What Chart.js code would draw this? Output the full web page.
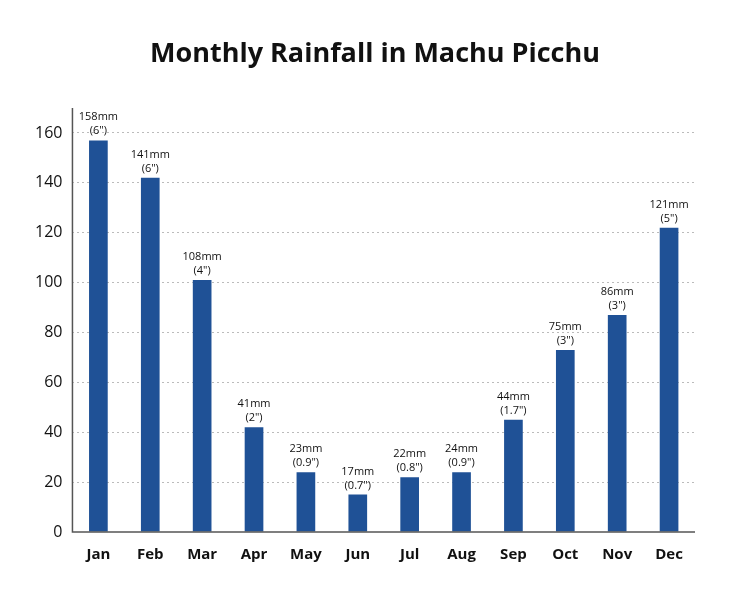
<!DOCTYPE html>
<html>
<head>
<meta charset="UTF-8">
<script src="https://cdn.jsdelivr.net/npm/chart.js"></script>
<style>
  body { margin: 0; background: #fff; }
  #wrap { width: 750px; height: 600px; }
</style>
</head>
<body>
<div id="wrap"><canvas id="myChart"></canvas></div>
<script>
const months = ['Jan','Feb','Mar','Apr','May','Jun','Jul','Aug','Sep','Oct','Nov','Dec'];
const rainfall = [157, 142, 101, 42, 24, 15, 22, 24, 45, 73, 87, 122];
const mmLabels = ['158mm','141mm','108mm','41mm','23mm','17mm','22mm','24mm','44mm','75mm','86mm','121mm'];
const inchLabels = ['(6")','(6")','(4")','(2")','(0.9")','(0.7")','(0.8")','(0.9")','(1.7")','(3")','(3")','(5")'];

// labels above bars + title + solid axis lines
const extras = {
  id: 'extras',
  afterDatasetsDraw(chart) {
    const c = chart.ctx;
    const meta = chart.getDatasetMeta(0);
    const a = chart.chartArea;
    c.save();
    c.strokeStyle = '#555';
    c.lineWidth = 1.5;
    c.setLineDash([]);
    c.beginPath();
    c.moveTo(a.left, a.top);
    c.lineTo(a.left, a.bottom);
    c.lineTo(a.right, a.bottom);
    c.stroke();

    c.fillStyle = '#111';
    c.font = '11px "Open Sans", sans-serif';
    c.textAlign = 'center';
    meta.data.forEach((bar, i) => {
      c.fillText(mmLabels[i], bar.x, bar.y - 20);
      c.fillText(inchLabels[i], bar.x, bar.y - 6);
    });

    c.font = 'bold 27px "Open Sans", sans-serif';
    c.fillText('Monthly Rainfall in Machu Picchu', 375, 62);
    c.restore();
  }
};

new Chart(document.getElementById('myChart'), {
  type: 'bar',
  data: {
    labels: months,
    datasets: [{
      data: rainfall,
      backgroundColor: '#1f5196',
      barPercentage: 0.36,
      categoryPercentage: 1.0
    }]
  },
  options: {
    responsive: true,
    maintainAspectRatio: false,
    animation: false,
    layout: { padding: { left: 25, right: 55, top: 108, bottom: 30 } },
    plugins: {
      legend: { display: false },
      tooltip: { enabled: false }
    },
    scales: {
      x: {
        grid: { display: false },
        border: { display: false },
        ticks: { color: '#111', font: { size: 15, weight: 'bold', family: '"Open Sans", sans-serif' }, padding: 6 }
      },
      y: {
        min: 0,
        max: 170,
        border: { display: false, dash: [2, 3] },
        ticks: {
          stepSize: 10,
          color: '#111',
          font: { size: 16, family: '"Open Sans", sans-serif' },
          padding: 10,
          callback: v => v % 20 === 0 ? v : ''
        },
        grid: {
          drawTicks: false,
          color: ctx => (ctx.tick && ctx.tick.value % 20 === 0 && ctx.tick.value > 0) ? '#bbb' : 'transparent'
        }
      }
    }
  },
  plugins: [extras]
});
</script>
</body>
</html>
